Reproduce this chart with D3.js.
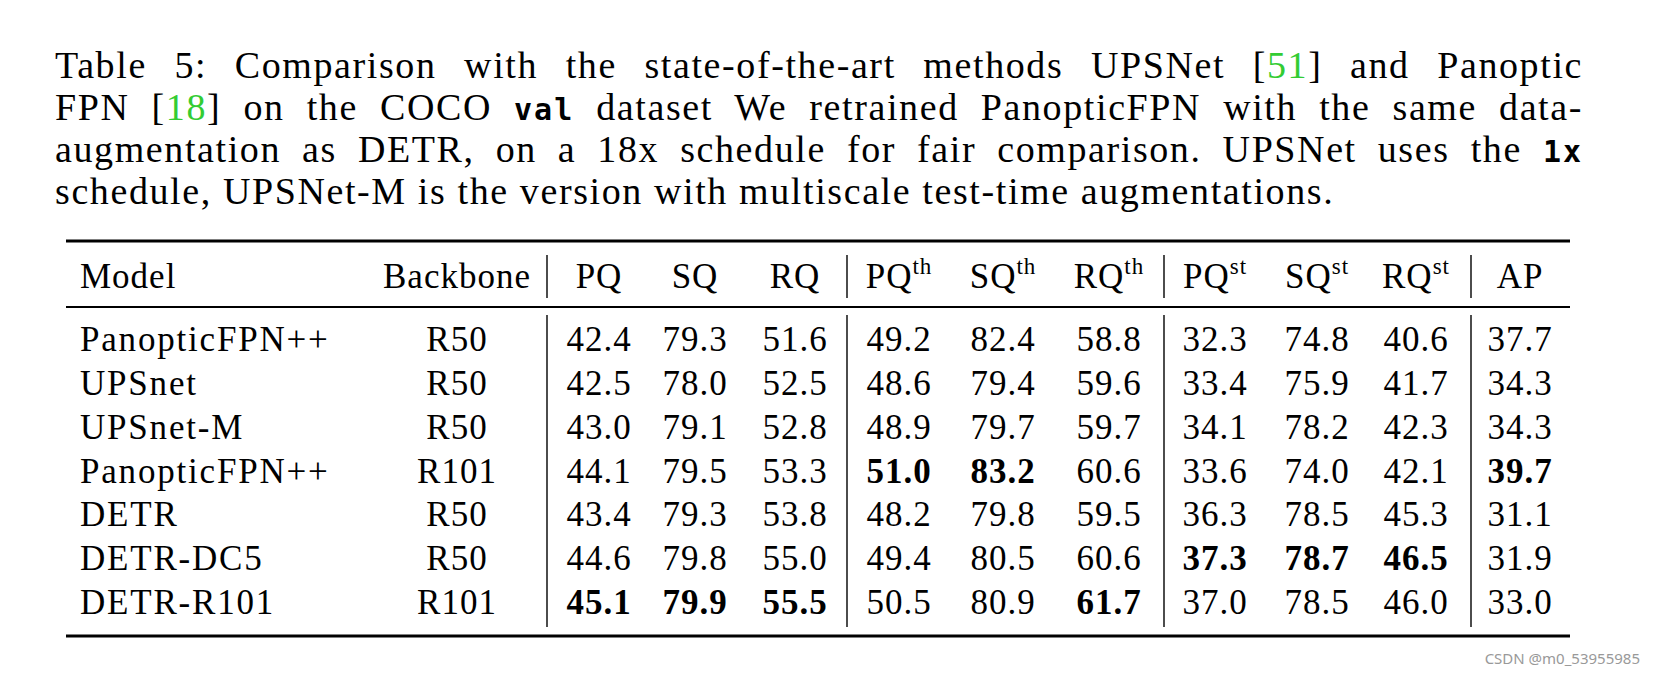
<!DOCTYPE html>
<html><head><meta charset="utf-8">
<script src="https://cdn.jsdelivr.net/npm/d3@7/dist/d3.min.js"></script>
<style>body{margin:0;background:#fff}</style></head>
<body><svg id="c" width="1658" height="680"></svg>
<script>
const captionLines = [
  [["Table 5: Comparison with the state-of-the-art methods UPSNet ","t"],["[","t"],["51","g"],["]","t"],[" and Panoptic","t"]],
  [["FPN ","t"],["[","t"],["18","g"],["]","t"],[" on the COCO ","t"],["val","m"],[" dataset We retrained PanopticFPN with the same data-","t"]],
  [["augmentation as DETR, on a 18x schedule for fair comparison. UPSNet uses the ","t"],["1x","m"]],
  [["schedule, UPSNet-M is the version with multiscale test-time augmentations.","t"]]
];
const headers = [["Model",""],["Backbone",""],["PQ",""],["SQ",""],["RQ",""],["PQ","th"],["SQ","th"],["RQ","th"],["PQ","st"],["SQ","st"],["RQ","st"],["AP",""]];
const models = ["PanopticFPN++","UPSnet","UPSnet-M","PanopticFPN++","DETR","DETR-DC5","DETR-R101"];
const backbones = ["R50","R50","R50","R101","R50","R50","R101"];
const values = [
  [42.4,79.3,51.6,49.2,82.4,58.8,32.3,74.8,40.6,37.7],
  [42.5,78.0,52.5,48.6,79.4,59.6,33.4,75.9,41.7,34.3],
  [43.0,79.1,52.8,48.9,79.7,59.7,34.1,78.2,42.3,34.3],
  [44.1,79.5,53.3,51.0,83.2,60.6,33.6,74.0,42.1,39.7],
  [43.4,79.3,53.8,48.2,79.8,59.5,36.3,78.5,45.3,31.1],
  [44.6,79.8,55.0,49.4,80.5,60.6,37.3,78.7,46.5,31.9],
  [45.1,79.9,55.5,50.5,80.9,61.7,37.0,78.5,46.0,33.0]
];
const watermark = "CSDN @m0_53955985";

const svg = d3.select("#c");
const serif = "'Liberation Serif', 'DejaVu Serif', serif";
const capBase = [78,120,162,204];
captionLines.forEach((parts,i)=>{
  const t = svg.append("text").attr("x",55).attr("y",capBase[i]).attr("font-family",serif).attr("font-size",38)
    .attr("letter-spacing",1.6).attr("fill","#000");
  parts.forEach(p=>{
    const s = t.append("tspan").text(p[0]);
    if(p[1]==="g") s.attr("fill","#33cc33");
    if(p[1]==="m") s.attr("font-family","'DejaVu Sans Mono', monospace").attr("font-weight","bold").attr("font-size",30).attr("letter-spacing",2);
  });
  if(i<3){
    const w = t.node().getComputedTextLength();
    const txt = parts.map(p=>p[0]).join("");
    const n = (txt.match(/ /g)||[]).length;
    t.attr("word-spacing",Math.max(0,(1583-55-w)/n));
  }
});
const colX = [80,457,599,695,795,899,1003,1109,1215,1317,1416,1520];
const y = d3.scaleBand().domain(d3.range(models.length)).range([317,624]);
const fs = 35;
const rule = (yy,w)=>svg.append("line").attr("x1",66).attr("x2",1570).attr("y1",yy).attr("y2",yy).attr("stroke","#000").attr("stroke-width",w);
rule(241,3.2); rule(307,1.9); rule(636,3.2);
[547,847,1164,1471].forEach(x=>{
  svg.append("line").attr("x1",x).attr("x2",x).attr("y1",255).attr("y2",298).attr("stroke","#000").attr("stroke-width",1.4);
  svg.append("line").attr("x1",x).attr("x2",x).attr("y1",315).attr("y2",627).attr("stroke","#000").attr("stroke-width",1.4);
});
headers.forEach((h,j)=>{
  const t = svg.append("text").attr("x",colX[j]).attr("y",288).attr("font-family",serif).attr("font-size",fs)
    .attr("letter-spacing",1).attr("text-anchor",j===0?"start":"middle");
  t.append("tspan").text(h[0]);
  if(h[1]) t.append("tspan").text(h[1]).attr("font-size",23).attr("dy",-14);
});
const maxes = d3.range(10).map(k=>d3.max(values,r=>r[k]));
models.forEach((m,i)=>{
  const cy = y(i)+y.bandwidth()/2+12;
  svg.append("text").attr("x",colX[0]).attr("y",cy).attr("font-family",serif).attr("font-size",fs).attr("letter-spacing",1.8).text(m);
  svg.append("text").attr("x",colX[1]).attr("y",cy).attr("font-family",serif).attr("font-size",fs).attr("letter-spacing",1).attr("text-anchor","middle").text(backbones[i]);
  values[i].forEach((v,k)=>{
    svg.append("text").attr("x",colX[k+2]).attr("y",cy).attr("font-family",serif).attr("font-size",fs).attr("letter-spacing",1)
      .attr("text-anchor","middle").attr("font-weight",v===maxes[k]?"bold":"normal").text(v.toFixed(1));
  });
});
svg.append("text").attr("x",1640).attr("y",664).attr("text-anchor","end").attr("font-family","'Noto Sans', sans-serif")
  .attr("font-size",15).attr("fill","#999").text(watermark);
</script></body></html>
